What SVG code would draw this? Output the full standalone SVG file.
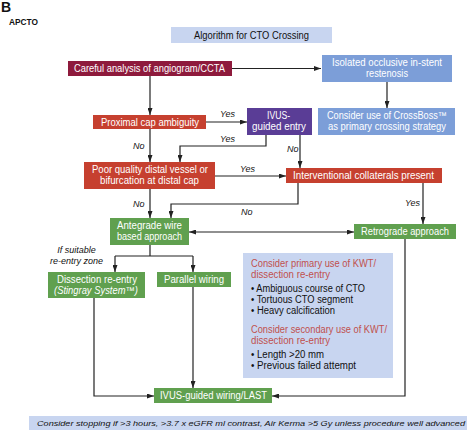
<svg xmlns="http://www.w3.org/2000/svg" width="474" height="432" viewBox="0 0 474 432">
<style>
.t{font-family:"Liberation Sans",Arial,sans-serif;font-size:10px;fill:#fff}
.b{font-family:"Liberation Sans",Arial,sans-serif;font-size:10px;fill:#111}
.r{font-family:"Liberation Sans",Arial,sans-serif;font-size:10px;fill:#c0504d}
.l{font-family:"Liberation Sans",Arial,sans-serif;font-size:9px;font-style:italic;fill:#111}
.s{font-family:"Liberation Sans",Arial,sans-serif;font-size:8.1px;font-style:italic;fill:#111}
.ln{stroke:#222;stroke-width:1.2;fill:none}
.crim{fill:#8e1a3c}.red{fill:#c6402f}.pur{fill:#5a3d96}.mb{fill:#7c9ed8}.lb{fill:#c8d5f0}.gr{fill:#60a04f}
</style>
<defs>
<marker id="a" markerWidth="7" markerHeight="5" refX="7" refY="2.5" orient="auto-start-reverse" markerUnits="userSpaceOnUse">
<path d="M0,0 L7,2.5 L0,5 z" fill="#222"/>
</marker>
</defs>
<text x="1" y="12" font-family="Liberation Sans,Arial,sans-serif" font-size="14" font-weight="bold" fill="#111">B</text>
<text x="9" y="25" font-family="Liberation Sans,Arial,sans-serif" font-size="9.5" font-weight="bold" fill="#111" textLength="29" lengthAdjust="spacingAndGlyphs">APCTO</text>

<g id="title"><rect class="lb" x="171" y="27" width="161" height="16"/><text class="b" x="194" y="38.5" textLength="115" lengthAdjust="spacingAndGlyphs">Algorithm for CTO Crossing</text></g>

<g id="connectors">
<path class="ln" d="M232,68.5 H321" marker-end="url(#a)"/>
<path class="ln" d="M150,76 V115" marker-end="url(#a)"/>
<path class="ln" d="M387,82 V108" marker-end="url(#a)"/>
<path class="ln" d="M206,122 H247" marker-end="url(#a)"/>
<path class="ln" d="M266,135 V146 H180 V162" marker-end="url(#a)"/>
<path class="ln" d="M300,135 V168" marker-end="url(#a)"/>
<path class="ln" d="M150,129 V162" marker-end="url(#a)"/>
<path class="ln" d="M215,176 H286" marker-end="url(#a)"/>
<path class="ln" d="M298,183 V204 H171 V218" marker-end="url(#a)"/>
<path class="ln" d="M423,183 V224" marker-end="url(#a)"/>
<path class="ln" d="M150,189 V218" marker-end="url(#a)"/>
<path class="ln" d="M189,232 H354" marker-start="url(#a)" marker-end="url(#a)"/>
<path class="ln" d="M150,245 V256"/>
<path class="ln" d="M115,256 H193"/>
<path class="ln" d="M115,256 V272" marker-end="url(#a)"/>
<path class="ln" d="M193,256 V272" marker-end="url(#a)"/>
<path class="ln" d="M94,298 V396 H154" marker-end="url(#a)"/>
<path class="ln" d="M193,287 V388" marker-end="url(#a)"/>
<path class="ln" d="M405,239 V396 H272" marker-end="url(#a)"/>
<text class="l" x="220" y="117">Yes</text>
<text class="l" x="220" y="142">Yes</text>
<text class="l" x="133" y="149">No</text>
<text class="l" x="287" y="152">No</text>
<text class="l" x="240" y="172">Yes</text>
<text class="l" x="133" y="207">No</text>
<text class="l" x="241" y="215">No</text>
<text class="l" x="405" y="206">Yes</text>
<text class="l" x="76.5" y="253" text-anchor="middle">If suitable</text>
<text class="l" x="76.5" y="264" text-anchor="middle">re-entry zone</text>
</g>

<g id="careful"><rect class="crim" x="68" y="61" width="164" height="15"/><text class="t" x="74" y="72" textLength="151" lengthAdjust="spacingAndGlyphs">Careful analysis of angiogram/CCTA</text></g>
<g id="isolated"><rect class="mb" x="322" y="55" width="130" height="27"/><text class="t" x="332" y="66" textLength="110" lengthAdjust="spacingAndGlyphs">Isolated occlusive in-stent</text><text class="t" x="366" y="77" textLength="42" lengthAdjust="spacingAndGlyphs">restenosis</text></g>
<g id="proximal"><rect class="red" x="93" y="115" width="113" height="14"/><text class="t" x="101" y="125.5" textLength="98" lengthAdjust="spacingAndGlyphs">Proximal cap ambiguity</text></g>
<g id="ivus-entry"><rect class="pur" x="247" y="108" width="65" height="27"/><text class="t" x="267" y="119" textLength="23" lengthAdjust="spacingAndGlyphs">IVUS-</text><text class="t" x="252" y="130" textLength="54" lengthAdjust="spacingAndGlyphs">guided entry</text></g>
<g id="crossboss"><rect class="mb" x="318" y="108" width="137" height="27"/><text class="t" x="327" y="119" textLength="120" lengthAdjust="spacingAndGlyphs">Consider use of CrossBoss™</text><text class="t" x="328" y="130" textLength="118" lengthAdjust="spacingAndGlyphs">as primary crossing strategy</text></g>
<g id="poor"><rect class="red" x="84" y="162" width="131" height="27"/><text class="t" x="92" y="173" textLength="116" lengthAdjust="spacingAndGlyphs">Poor quality distal vessel or</text><text class="t" x="100" y="184" textLength="99" lengthAdjust="spacingAndGlyphs">bifurcation at distal cap</text></g>
<g id="collaterals"><rect class="red" x="286" y="168" width="156" height="15"/><text class="t" x="293" y="179" textLength="141" lengthAdjust="spacingAndGlyphs">Interventional collaterals present</text></g>
<g id="antegrade"><rect class="gr" x="110" y="218" width="79" height="27"/><text class="t" x="117" y="229" textLength="65" lengthAdjust="spacingAndGlyphs">Antegrade wire</text><text class="t" x="117" y="240" textLength="65" lengthAdjust="spacingAndGlyphs">based approach</text></g>
<g id="retrograde"><rect class="gr" x="354" y="224" width="102" height="15"/><text class="t" x="361" y="235" textLength="88" lengthAdjust="spacingAndGlyphs">Retrograde approach</text></g>
<g id="dissection"><rect class="gr" x="48" y="272" width="97" height="26"/><text class="t" x="57" y="283" textLength="80" lengthAdjust="spacingAndGlyphs">Dissection re-entry</text><text class="t" x="54" y="294" font-style="italic" textLength="84" lengthAdjust="spacingAndGlyphs">(Stingray System™)</text></g>
<g id="parallel"><rect class="gr" x="157" y="272" width="74" height="15"/><text class="t" x="164" y="283" textLength="60" lengthAdjust="spacingAndGlyphs">Parallel wiring</text></g>
<g id="info"><rect class="lb" x="243" y="253" width="150" height="125"/>
<text class="r" x="251" y="267" textLength="125" lengthAdjust="spacingAndGlyphs">Consider primary use of KWT/</text>
<text class="r" x="251" y="278" textLength="79" lengthAdjust="spacingAndGlyphs">dissection re-entry</text>
<text class="b" x="251" y="292" textLength="114" lengthAdjust="spacingAndGlyphs">• Ambiguous course of CTO</text>
<text class="b" x="251" y="303" textLength="102" lengthAdjust="spacingAndGlyphs">• Tortuous CTO segment</text>
<text class="b" x="251" y="314" textLength="84" lengthAdjust="spacingAndGlyphs">• Heavy calcification</text>
<text class="r" x="251" y="333" textLength="136" lengthAdjust="spacingAndGlyphs">Consider secondary use of KWT/</text>
<text class="r" x="251" y="344" textLength="79" lengthAdjust="spacingAndGlyphs">dissection re-entry</text>
<text class="b" x="251" y="358" textLength="73" lengthAdjust="spacingAndGlyphs">• Length &gt;20 mm</text>
<text class="b" x="251" y="369" textLength="105" lengthAdjust="spacingAndGlyphs">• Previous failed attempt</text>
</g>
<g id="ivus-wiring"><rect class="gr" x="154" y="388" width="118" height="15"/><text class="t" x="160" y="399" textLength="107" lengthAdjust="spacingAndGlyphs">IVUS-guided wiring/LAST</text></g>
<g id="stopping"><rect class="lb" x="29" y="416" width="438" height="14"/><text class="s" x="37" y="426" textLength="428" lengthAdjust="spacingAndGlyphs">Consider stopping if &gt;3 hours, &gt;3.7 x eGFR ml contrast, Air Kerma &gt;5 Gy unless procedure well advanced</text></g>
</svg>
